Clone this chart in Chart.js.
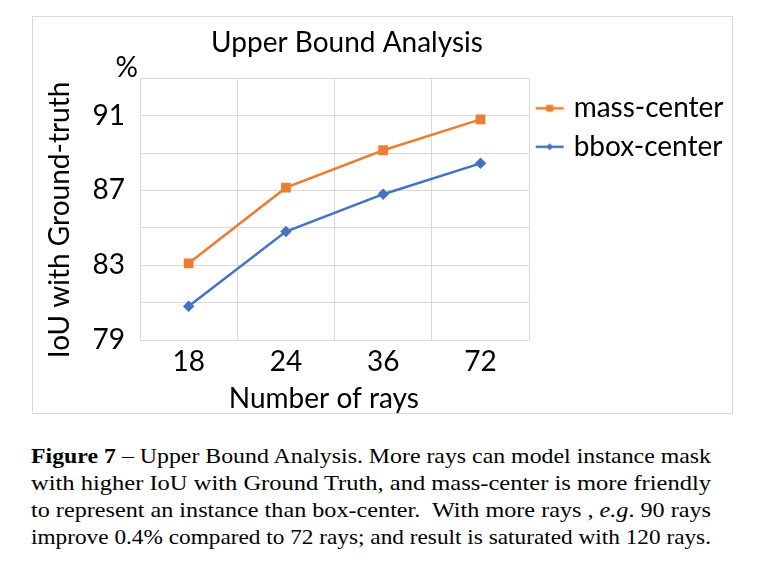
<!DOCTYPE html>
<html>
<head>
<meta charset="utf-8">
<script src="https://cdn.jsdelivr.net/npm/chart.js@4.4.1/dist/chart.umd.min.js"></script>
<style>
  html, body { margin: 0; padding: 0; background: #fff; }
  body { width: 761px; height: 575px; position: relative; overflow: hidden; }
  #frame { position: absolute; left: 32px; top: 16px; width: 701px; height: 398px; box-sizing: border-box; border: 1px solid #d9d9d9; }
  #wrap { position: absolute; left: 33px; top: 17px; width: 699px; height: 396px; }
  #caption { position: absolute; left: 31px; top: 442px; font-family: "Liberation Serif", "Times New Roman", serif; font-size: 22px; color: #000; }
  #caption .line { height: 27px; line-height: 27px; white-space: nowrap; }
  #caption .line span { display: inline-block; transform-origin: 0 50%; }
</style>
</head>
<body>
<div id="frame"></div>
<div id="wrap"><canvas id="c"></canvas></div>
<div id="caption">
  <div class="line"><span><b>Figure 7</b> – Upper Bound Analysis. More rays can model instance mask</span></div>
  <div class="line"><span>with higher IoU with Ground Truth, and mass-center is more friendly</span></div>
  <div class="line"><span>to represent an instance than box-center.&nbsp; With more rays , <i>e.g</i>. 90 rays</span></div>
  <div class="line"><span>improve 0.4% compared to 72 rays; and result is saturated with 120 rays.</span></div>
</div>
<script>
// ---- data ----
const categories = ["18", "24", "36", "72"];
const massCenter = [83.1, 87.15, 89.15, 90.8];
const bboxCenter = [80.8, 84.8, 86.8, 88.45];
const yTickLabels = [79, 83, 87, 91];
const seriesNames = ["mass-center", "bbox-center"];

const ORANGE = "#ED7D31";
const BLUE = "#4472C4";
const GRID = "#d9d9d9";
const FONT = "Lato, Carlito, 'Open Sans', sans-serif";
const FS = 28;

// caption line fitting
document.querySelectorAll('#caption .line span').forEach(s => {
  const w = s.getBoundingClientRect().width;
  s.style.transform = 'scaleX(' + (680 / w) + ')';
});

function legendIcon(color, style) {
  const cv = document.createElement('canvas');
  cv.width = 30; cv.height = 12;
  const g = cv.getContext('2d');
  g.strokeStyle = color; g.lineWidth = 2.5;
  g.beginPath(); g.moveTo(1, 6); g.lineTo(29, 6); g.stroke();
  g.fillStyle = color;
  if (style === 'rect') { g.fillRect(11.5, 2.5, 7, 7); }
  else { g.beginPath(); g.moveTo(15, 2.5); g.lineTo(18.5, 6); g.lineTo(15, 9.5); g.lineTo(11.5, 6); g.closePath(); g.fill(); }
  return cv;
}

const percentPlugin = {
  id: 'percentLabel',
  afterLayout(chart) {
    // shift the chart title centre slightly left, as in the original
    const tb = chart.titleBlock;
    if (tb) {
      const half = (tb.right - tb.left) / 2;
      const c = 314;
      tb.left = c - half; tb.right = c + half;
    }
  },
  afterDraw(chart) {
    const { ctx, chartArea } = chart;
    ctx.save();
    ctx.font = FS + "px " + FONT;
    ctx.fillStyle = "#000";
    ctx.textAlign = "right";
    ctx.textBaseline = "alphabetic";
    ctx.fillText("%", chartArea.left - 2, chartArea.top - 1);
    ctx.restore();
  }
};

Chart.defaults.font.family = FONT;
Chart.defaults.color = "#000";

new Chart(document.getElementById('c'), {
  type: 'line',
  data: {
    labels: categories,
    datasets: [
      { label: seriesNames[0], data: massCenter, borderColor: ORANGE, backgroundColor: ORANGE,
        borderWidth: 2.5, pointStyle: 'rect', pointRadius: 5.2, pointHoverRadius: 5.2, tension: 0 },
      { label: seriesNames[1], data: bboxCenter, borderColor: BLUE, backgroundColor: BLUE,
        borderWidth: 2.5, pointStyle: 'rectRot', pointRadius: 4, pointHoverRadius: 4, tension: 0 }
    ]
  },
  options: {
    responsive: true,
    maintainAspectRatio: false,
    animation: false,
    layout: { padding: { left: 0, right: -1.5, top: 0, bottom: 0 } },
    plugins: {
      title: { display: true, text: "Upper Bound Analysis", font: { size: FS, weight: 'normal' },
               color: "#000", padding: { top: 9.2, bottom: 18.5 } },
      legend: {
        position: 'right', align: 'start', maxWidth: 240,
        title: { display: true, text: ' ', padding: { top: 42.8, bottom: 0 }, font: { size: 20 } },
        labels: {
          font: { size: FS }, color: "#000", usePointStyle: true, pointStyleWidth: 20, padding: 10.5,
          generateLabels(chart) {
            return chart.data.datasets.map((ds, i) => ({
              text: ds.label, datasetIndex: i,
              pointStyle: legendIcon(ds.borderColor, ds.pointStyle),
              fillStyle: ds.borderColor, strokeStyle: ds.borderColor, lineWidth: 0,
              fontColor: "#000", hidden: false
            }));
          }
        }
      },
      tooltip: { enabled: false }
    },
    scales: {
      x: {
        type: 'category',
        offset: true,
        grid: { offset: true, color: GRID, lineWidth: 1, drawTicks: false },
        border: { display: false },
        ticks: { font: { size: FS }, color: "#000", padding: 5, maxRotation: 0 },
        title: { display: true, text: "Number of rays   ", font: { size: FS }, color: "#000", padding: { top: 0, bottom: -3 } },
        afterFit(s) { s.height = 73; }
      },
      y: {
        min: 79, max: 93,
        grid: { color: GRID, lineWidth: 1, drawTicks: false },
        border: { display: false },
        ticks: { stepSize: 2, font: { size: FS }, color: "#000", padding: 15,
                 callback: v => yTickLabels.includes(v) ? String(v) : '' },
        title: { display: true, text: "IoU with Ground-truth   ", font: { size: FS }, color: "#000", padding: { top: 10, bottom: 0 } },
        afterFit(s) { s.width = 107; }
      }
    }
  },
  plugins: [percentPlugin]
});
</script>
</body>
</html>
